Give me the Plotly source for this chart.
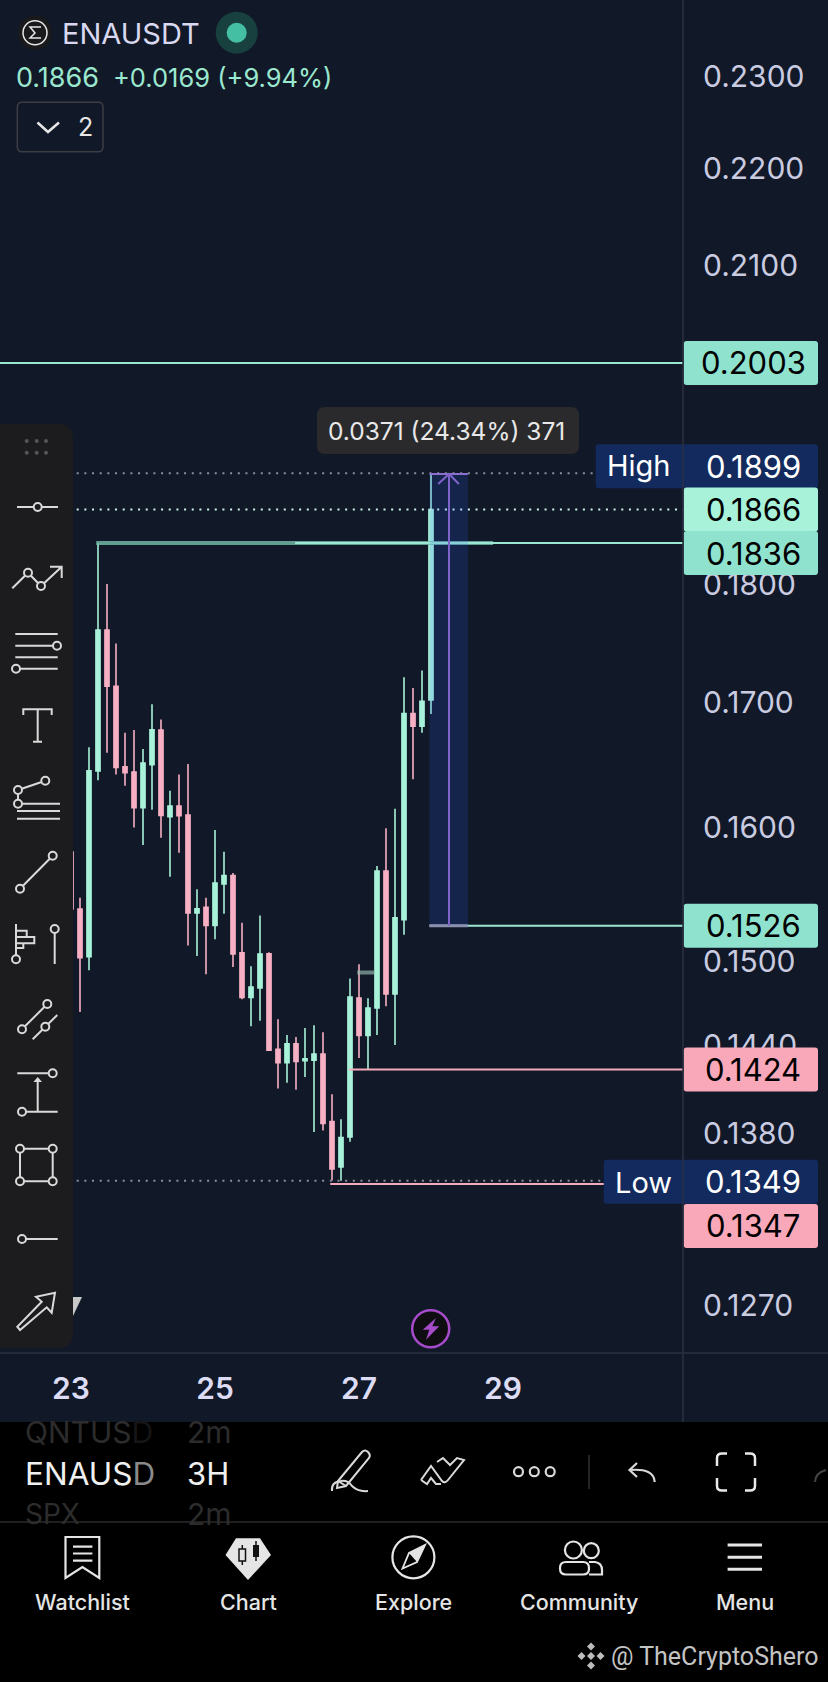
import math
import plotly.graph_objects as go

W, H = 828, 1682
PANE_R, PANE_B, AXIS_B = 683, 1353, 1422

BG = "#111827"
GREEN = "#A8F2D9"
PINK = "#F7B0C3"
LINE_GREEN = "#9AE8D2"
LINE_PINK = "#F4A9BC"
ICON = "#D9D9D9"

# 3H candles, slot 0 = the 23rd 00:00
open_ = [0.15814, 0.15384, 0.15033, 0.16446, 0.17604, 0.17132, 0.16479, 0.16436, 0.16156, 0.16495, 0.16774,
         0.16085, 0.16169, 0.16098, 0.15354, 0.15396, 0.15262, 0.15572, 0.15635, 0.15062, 0.14741, 0.14809,
         0.15055, 0.14375, 0.14282, 0.14414, 0.14296, 0.14300, 0.14342, 0.13883, 0.13581, 0.13780, 0.14736,
         0.14472, 0.14665, 0.15668, 0.14765, 0.15304, 0.16909, 0.16805, 0.17019]
high = [0.15814, 0.15468, 0.16635, 0.18360, 0.18000, 0.17491, 0.16752, 0.16774, 0.16621, 0.16984, 0.16860,
        0.16289, 0.16418, 0.16501, 0.15531, 0.15468, 0.15982, 0.15816, 0.15654, 0.15283, 0.14965, 0.15336,
        0.15065, 0.14585, 0.14476, 0.14462, 0.14525, 0.14544, 0.14495, 0.14066, 0.13898, 0.14876, 0.14978,
        0.14734, 0.15707, 0.15997, 0.16148, 0.17207, 0.17118, 0.17264, 0.18990]
low = [0.15384, 0.14637, 0.14936, 0.16372, 0.16591, 0.16418, 0.16328, 0.16003, 0.15867, 0.16140, 0.15923,
       0.15625, 0.15808, 0.15116, 0.15038, 0.14907, 0.15160, 0.15349, 0.14958, 0.14727, 0.14537, 0.14575,
       0.14365, 0.14106, 0.14145, 0.14097, 0.14185, 0.13813, 0.13822, 0.13493, 0.13490, 0.13747, 0.14316,
       0.14236, 0.14476, 0.14677, 0.14405, 0.15193, 0.16380, 0.16752, 0.16904]
close = [0.15384, 0.15026, 0.16447, 0.17604, 0.17134, 0.16474, 0.16431, 0.16156, 0.16509, 0.16776, 0.16096,
         0.16169, 0.16093, 0.15354, 0.15386, 0.15262, 0.15578, 0.15635, 0.15053, 0.14741, 0.14815, 0.15053,
         0.14370, 0.14282, 0.14414, 0.14291, 0.14310, 0.14342, 0.13869, 0.13568, 0.13776, 0.14743, 0.14472,
         0.14665, 0.15668, 0.14765, 0.15319, 0.16909, 0.16805, 0.17008, 0.18660]

date_slots = [0, 16, 32, 48]
date_labels = ["23", "25", "27", "29"]
price_ticks = [0.2300, 0.2200, 0.2100, 0.1800, 0.1700, 0.1600, 0.1500, 0.1440, 0.1380, 0.1270]

level_last = 0.1866
level_high = 0.1899
level_low = 0.1349
level_2003 = 0.2003
level_1836 = 0.1836
level_1526 = 0.1526
level_1424 = 0.14235
level_1347 = 0.1347
level_stub = 0.14919
measure_top = 0.18984
measure_head = 0.18892

V_TOP, V_BOT = 0.23871, 0.12413
X_MIN, X_MAX = -71 / 9, 68


def price_px(v):
    return PANE_B * math.log(V_TOP / v) / math.log(V_TOP / V_BOT)


shapes = []
annotations = []


def conv(d):
    out, i = [], 0
    for t in d.split():
        if t.isalpha():
            out.append(t)
        else:
            out.append(str(float(t) / W if i % 2 == 0 else 1 - float(t) / H))
            i += 1
    return " ".join(out)


def pth(d, fill="rgba(0,0,0,0)", line="rgba(0,0,0,0)", w=0):
    shapes.append(dict(type="path", xref="paper", yref="paper", path=conv(d), fillcolor=fill,
                       line=dict(color=line, width=w), layer="above"))


def circ(cx, cy, r, fill="rgba(0,0,0,0)", line="rgba(0,0,0,0)", w=0):
    shapes.append(dict(type="circle", xref="paper", yref="paper", x0=(cx - r) / W, x1=(cx + r) / W,
                       y0=1 - (cy + r) / H, y1=1 - (cy - r) / H, fillcolor=fill,
                       line=dict(color=line, width=w), layer="above"))


def rrect(x0, y0, x1, y1, r, fill="rgba(0,0,0,0)", line="rgba(0,0,0,0)", w=0):
    pth(f"M {x0+r} {y0} L {x1-r} {y0} Q {x1} {y0} {x1} {y0+r} L {x1} {y1-r} Q {x1} {y1} {x1-r} {y1} "
        f"L {x0+r} {y1} Q {x0} {y1} {x0} {y1-r} L {x0} {y0+r} Q {x0} {y0} {x0+r} {y0} Z", fill, line, w)


def text(s, x, y, size, color, anchor="left", weight=400, family="Inter"):
    annotations.append(dict(text=s, x=x / W, y=1 - y / H, xref="paper", yref="paper", showarrow=False,
                            xanchor=anchor, yanchor="middle", borderpad=0,
                            font=dict(family=family, size=size, color=color, weight=weight)))


def ring(cx, cy, r=4):
    circ(cx, cy, r, fill="#1C1C1E", line=ICON, w=2)


def stroke(d, color=ICON, w=2):
    pth(d, line=color, w=w)


fig = go.Figure()

fig.add_trace(go.Candlestick(
    x=list(range(len(open_))), open=open_, high=high, low=low, close=close, whiskerwidth=0,
    increasing=dict(line=dict(color=GREEN, width=1.6), fillcolor=GREEN),
    decreasing=dict(line=dict(color=PINK, width=1.6), fillcolor=PINK),
))


def hline(x0, x1, y, color, width, dash=None):
    fig.add_trace(go.Scatter(x=[x0, x1], y=[y, y], mode="lines", hoverinfo="skip",
                             line=dict(color=color, width=width, dash=dash)))


# drawn levels
hline(X_MIN, X_MAX, level_2003, LINE_GREEN, 2)
hline(X_MIN, X_MAX, level_high, "#8A8F9A", 2, "2px,5.67px")
hline(X_MIN, X_MAX, level_last, "#CFF3E8", 2, "2px,5.67px")
hline(X_MIN, X_MAX, level_low, "#8A8F9A", 2, "2px,5.67px")
hline(2.8, 46.9, level_1836, "rgba(120,190,172,0.8)", 4)
hline(24.9, X_MAX, level_1836, LINE_GREEN, 2)
hline(31.8, 33.7, level_stub, "rgba(150,190,180,0.65)", 4)
hline(30.9, X_MAX, level_1424, LINE_PINK, 2)
hline(28.8, X_MAX, level_1347, LINE_PINK, 2)

# measure tool
fig.add_trace(go.Scatter(x=[39.83, 44.1, 44.1, 39.83, 39.83],
                         y=[level_1526, level_1526, measure_top, measure_top, level_1526],
                         mode="lines", fill="toself", fillcolor="rgba(41,98,255,0.17)",
                         line=dict(width=0), hoverinfo="skip"))
hline(39.83, X_MAX, level_1526, LINE_GREEN, 2)
hline(39.83, 44.1, level_1526, "#8B8FB0", 3)
hline(39.83, 44.1, measure_top, "#8A6FD1", 2)
fig.add_trace(go.Scatter(x=[42, 42], y=[level_1526, measure_top], mode="lines", hoverinfo="skip",
                         line=dict(color="#7E63C9", width=2)))
fig.add_trace(go.Scatter(x=[40.8, 42, 43.1], y=[measure_head, measure_top, measure_head], mode="lines",
                         hoverinfo="skip", line=dict(color="#7E63C9", width=2)))

# price tags
TAG_X0, TAG_X1 = 683.7, 818
for label, level, shift, bg, fg in [
    ("0.2003", level_2003, 0, "#8FE3CE", "#000"),
    ("0.1899", level_high, -7, "#122A5E", "#FFF"),
    ("0.1866", level_last, 0, "#A8F2D9", "#000"),
    ("0.1836", level_1836, 10, "#8FE3CE", "#000"),
    ("0.1526", level_1526, 0, "#8FE3CE", "#000"),
    ("0.1424", level_1424, 0, "#F9A8BA", "#000"),
    ("0.1349", level_low, 1, "#122A5E", "#FFF"),
    ("0.1347", level_1347, 42, "#F9A8BA", "#000"),
]:
    c = price_px(level) + shift
    x0 = {"0.1899": 595.7, "0.1349": 603.7}.get(label, TAG_X0)
    rrect(x0, c - 22, TAG_X1, c + 22, 3, fill=bg)
    text(label, 753, c, 31, fg, "center")
    if label == "0.1899":
        text("High", 638.7, c - 1, 29, fg, "center")
    if label == "0.1349":
        text("Low", 643, c + 1, 29, fg, "center")

# axis separators
stroke(f"M {PANE_R} 0 L {PANE_R} {AXIS_B}", "#2B3042", 1.5)
stroke(f"M 0 {PANE_B} L {PANE_R} {PANE_B}", "#2B3042", 1.5)
stroke(f"M {PANE_R} {PANE_B} L {W} {PANE_B}", "#2B3042", 1.5)

# legend top left
circ(35, 32.7, 17, fill="#1A1A1C")
circ(35, 32.7, 12, line="#E6E6E6", w=1.5)
stroke("M 41 27 L 30 27 L 35 33 L 30 38 L 41 38", "#E6E6E6", 1.5)
text("ENAUSDT", 60.5, 33, 29, "#D8D8F0")
circ(236.7, 32.7, 21, fill="#17403F")
circ(236.7, 32.7, 10, fill="#45BFA3")
text("0.1866", 15, 77.5, 27, "#9BE8D0")
text("+0.0169 (+9.94%)", 112, 77.5, 25.5, "#9BE8D0")
rrect(17.3, 102.3, 103, 151.7, 5, line="#3C3C44", w=1.5)
stroke("M 37.5 122.5 L 48 132 L 59 122.5", "#E6E6E6", 2.5)
text("2", 85, 127, 25, "#E6E6E6", "center")

# measure tooltip
rrect(317, 407, 579, 454, 8, fill="#2A2A2C")
text("0.0371 (24.34%) 371", 447, 431, 24.5, "#E8E8E8", "center")

# drawing toolbar
pth("M 73 1297 L 82 1297 L 73 1316 Z", fill="#C8C8C8")
pth("M 0 424 L 58 424 Q 73 424 73 439 L 73 1333 Q 73 1348 58 1348 L 0 1348 Z", fill="#1C1C1E")
for dx in (26.7, 36.7, 46):
    for dy in (441, 452.7):
        circ(dx, dy, 2, fill="#555558")
stroke("M 17 507 L 58 507")
ring(37.7, 507)
stroke("M 12.3 588.3 L 28 572.7 L 41 586 L 61.7 566.7 M 50 566.7 L 61.7 566.7 L 61.7 578")
ring(28, 572.7)
ring(41, 586)
stroke("M 15.3 634 L 57.7 634 M 15.3 645.7 L 57 645.7 M 15.3 657.3 L 57.7 657.3 M 16 668.7 L 57.7 668.7")
ring(57, 645.7)
ring(16, 668.7)
stroke("M 23.3 715 L 23.3 709.3 L 51.7 709.3 L 51.7 715 M 37.7 709.3 L 37.7 741.7 M 33 741.7 L 42 741.7")
stroke("M 45.3 780.7 L 18 790 L 18 803.7 M 18 803.7 L 60 803.7 M 17 811 L 60 811 M 17 818.7 L 60 818.7")
ring(45.3, 780.7)
ring(18, 790)
ring(18, 803.7)
stroke("M 52.7 855.7 L 20 888.7")
ring(52.7, 855.7)
ring(20, 888.7)
stroke("M 16 924 L 16 959.3 M 16 930.7 L 26.7 930.7 L 26.7 937 L 16 937 M 16 937 L 34.3 937 L 34.3 943.3 L 16 943.3 "
       "M 23.3 943.3 L 23.3 948 L 16 948 M 54.7 929 L 54.7 964")
ring(16, 959.3)
ring(54.7, 929)
stroke("M 47.3 1004 L 22 1029.3 M 32.7 1039.3 L 57.3 1015")
ring(47.3, 1004)
ring(22, 1029.3)
ring(45.3, 1026.7)
stroke("M 17.3 1073.3 L 52.7 1073.3 M 22 1111.7 L 57.7 1111.7 M 37.7 1111.7 L 37.7 1081")
pth("M 37.7 1077 L 42 1082 L 33.4 1082 Z", fill=ICON)
ring(52.7, 1073.3)
ring(22, 1111.7)
stroke("M 20 1148.7 L 52.7 1148.7 L 52.7 1181.3 L 20 1181.3 Z")
for cx, cy in [(20, 1148.7), (52.7, 1148.7), (20, 1181.3), (52.7, 1181.3)]:
    ring(cx, cy)
stroke("M 22 1239 L 57.7 1239")
ring(22, 1239)
stroke("M 55 1292.7 L 51.7 1312.7 L 46.7 1307.3 L 20 1330 L 17.3 1326.7 L 41.7 1301.7 L 36 1296.7 Z")

# alert badge
circ(430.7, 1328.7, 18.5, fill="#0D0D12", line="#A64BC9", w=2.5)
pth("M 436 1318 L 422.7 1329.7 L 429.3 1329.7 L 426 1339.7 L 439.3 1326.3 L 432.3 1326.3 Z", fill="#A64BC9")

# bottom bars
pth(f"M 0 {AXIS_B} L {W} {AXIS_B} L {W} {H} L 0 {H} Z", fill="#000000")
stroke(f"M 0 1522 L {W} 1522", "#2A2A2A", 1.5)

text("QNTUS<span style='color:#161616'>D</span>", 24, 1432, 30, "#2C2C2C")
text("2m", 186, 1432, 30, "#2C2C2C")
text("ENAUS<span style='color:#8A8A8A'>D</span>", 23.5, 1473, 31.5, "#F0F0F0")
text("3H", 186, 1473, 31, "#F0F0F0")
text("SPX", 24, 1514, 28, "#2C2C2C")
text("2m", 186, 1514, 30, "#2C2C2C")

# pen
stroke("M 338 1481 L 362 1452 Q 365 1449 368 1452 Q 371 1455 369 1458 L 346 1486 L 337 1488 Z")
stroke("M 338 1481 L 346 1486")
stroke("M 332 1491 Q 331 1482 341 1481 Q 348 1480 352 1486 Q 358 1492 368 1491")
# patterns
stroke("M 421 1480 L 431 1466 L 442 1481 Q 445 1484 448 1480 L 464 1460 L 457 1458 L 450 1465 L 443 1458 L 437 1462 "
       "M 421 1480 L 427 1484 L 431 1478 L 436 1484 L 441 1484", w=2)
for cx in (518.5, 534.3, 550.2):
    circ(cx, 1471.7, 4.5, line=ICON, w=2.2)
stroke("M 589 1455 L 589 1489", "#333333", 1.5)
stroke("M 637 1463 L 629.5 1470 L 637 1477 M 630 1470 Q 654 1468 654.7 1482", ICON, 2.2)
stroke("M 717 1466 L 717 1458 Q 717 1453.5 722 1453.5 L 727 1453.5 M 745 1453.5 L 750 1453.5 Q 755 1453.5 755 1458 "
       "L 755 1466 M 755 1478 L 755 1486 Q 755 1490.5 750 1490.5 L 745 1490.5 M 727 1490.5 L 722 1490.5 "
       "Q 717 1490.5 717 1486 L 717 1478", "#E8E8E8", 2.5)
stroke("M 815 1482 Q 815 1473 826 1470", "#444444", 2)

# nav bar
stroke("M 65.5 1537 L 99.3 1537 L 99.3 1578 L 82.4 1567 L 65.5 1578 Z", "#E5E5E5", 2.2)
stroke("M 73 1546.7 L 92.4 1546.7 M 73 1553.5 L 92.4 1553.5 M 73 1560.7 L 92.4 1560.7", "#E5E5E5", 2.2)
pth("M 236 1538.3 L 260 1538.3 L 271 1555 L 248 1580 L 225.5 1555 Z", fill="#E5E5E5")
stroke("M 242.3 1545 L 242.3 1565 M 256 1541 L 256 1561", "#111111", 1.5)
pth("M 239 1549 L 245.5 1549 L 245.5 1561 L 239 1561 Z", fill="#E5E5E5", line="#111111", w=1.5)
pth("M 253 1545 L 259 1545 L 259 1557 L 253 1557 Z", fill="#111111")
circ(413.4, 1557.3, 21, line="#E5E5E5", w=2.2)
pth("M 425 1545 L 417 1562 L 402.5 1568.5 L 409 1553 Z", line="#E5E5E5", w=1.8)
pth("M 425 1545 L 417 1562 L 409 1553 Z", fill="#E5E5E5")
circ(573.4, 1550, 8.5, line="#E5E5E5", w=2.2)
circ(591.3, 1550.7, 7.5, line="#E5E5E5", w=2.2)
rrect(560, 1562, 589, 1574.5, 6, line="#E5E5E5", w=2.2)
stroke("M 589 1562 L 595 1562 Q 602 1563 602 1570 L 602 1574.5 L 589 1574.5", "#E5E5E5", 2.2)
for ly in (1545, 1557.3, 1569.3):
    stroke(f"M 727.6 {ly} L 762 {ly}", "#E5E5E5", 3)
for label, cx in [("Watchlist", 82), ("Chart", 248), ("Explore", 413), ("Community", 579), ("Menu", 744.5)]:
    text(label, cx, 1601.5, 21.5, "#E5E5E5", "center", 500)

# watermark
for cx, cy, r in [(591, 1656, 4), (591, 1646.5, 4), (591, 1665.5, 4), (581.5, 1656, 4), (600.5, 1656, 4)]:
    pth(f"M {cx} {cy-r} L {cx+r} {cy} L {cx} {cy+r} L {cx-r} {cy} Z", fill="#BDBDBD")
text("@ TheCryptoShero", 610, 1656, 25, "#C4C4C4", family="Roboto")

fig.update_layout(
    width=W, height=H, autosize=False, margin=dict(l=0, r=0, t=0, b=0, pad=0),
    paper_bgcolor=BG, plot_bgcolor=BG, showlegend=False, boxgap=0.35, hovermode=False,
    shapes=shapes, annotations=annotations,
    xaxis=dict(domain=[0, PANE_R / W], range=[X_MIN, X_MAX], rangeslider=dict(visible=False),
               tickmode="array", tickvals=date_slots, ticktext=date_labels, showgrid=False, zeroline=False,
               showline=False, ticks="", ticklabelstandoff=15,
               tickfont=dict(family="Inter", size=30, color="#DCDCF5", weight=600)),
    yaxis=dict(domain=[1 - PANE_B / H, 1], type="log", range=[math.log10(V_BOT), math.log10(V_TOP)], side="right",
               tickmode="array", tickvals=price_ticks, ticktext=[f"{v:.4f}" for v in price_ticks], showgrid=False,
               zeroline=False, showline=False, ticks="", ticklabelstandoff=19,
               tickfont=dict(family="Inter", size=30, color="#C9CBE0")),
)

fig.write_html("out.html", config={"displayModeBar": False},
               post_script="document.body.style.margin='0';document.body.style.overflow='hidden';")
